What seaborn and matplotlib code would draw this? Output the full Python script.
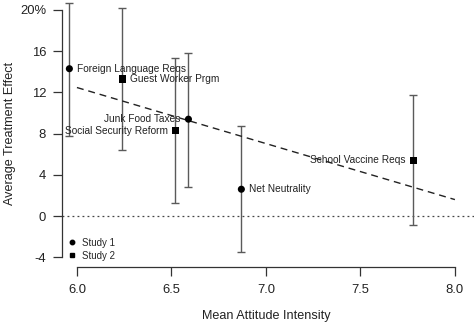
import numpy as np
import pandas as pd
import seaborn as sns
import matplotlib.pyplot as plt
from matplotlib.lines import Line2D

# values
topics = ['Foreign Language Reqs', 'Guest Worker Prgm', 'Social Security Reform',
          'Junk Food Taxes', 'Net Neutrality', 'School Vaccine Reqs']
study = ['Study 1', 'Study 2', 'Study 2', 'Study 1', 'Study 1', 'Study 2']
intensity = [5.96, 6.24, 6.52, 6.59, 6.87, 7.78]
effect = [14.3, 13.3, 8.3, 9.4, 2.6, 5.4]
ci_low = [7.8, 6.4, 1.3, 2.8, -3.5, -0.9]
ci_high = [20.7, 20.2, 15.3, 15.8, 8.7, 11.7]

y_ticks = [-4, 0, 4, 8, 12, 16, 20]
y_ticklabels = ['-4', '0', '4', '8', '12', '16', '20%']
x_ticks = [6.0, 6.5, 7.0, 7.5, 8.0]

df = pd.DataFrame({'topic': topics, 'study': study, 'x': intensity, 'y': effect,
                   'lo': ci_low, 'hi': ci_high})

sns.set_style('white')
plt.rcParams['font.family'] = ['Liberation Sans', 'DejaVu Sans']

fig = plt.figure(figsize=(4.74, 3.30), dpi=100)
ax = fig.add_axes([62 / 474, 63 / 330, 412 / 474, 267 / 330])

ink = '#222222'
bar_col = '#5a5a5a'

# error bars
ax.errorbar(df['x'], df['y'], yerr=[df['y'] - df['lo'], df['hi'] - df['y']],
            fmt='none', ecolor=bar_col, elinewidth=1.0, capsize=3.2, capthick=1.0,
            clip_on=False, zorder=2)

# zero reference
ax.axhline(0, color='#444444', lw=0.9, ls=(0, (1.5, 2.5)), zorder=1)

# OLS fit line over 6..8
slope, intercept = np.polyfit(df['x'], df['y'], 1)
fit = pd.DataFrame({'x': [6.0, 8.0]})
fit['y'] = intercept + slope * fit['x']
sns.lineplot(data=fit, x='x', y='y', ax=ax, color=ink, lw=1.0,
             dashes=False, zorder=3)
ax.lines[-1].set_linestyle((0, (5, 3.5)))

sns.scatterplot(data=df, x='x', y='y', style='study',
                markers={'Study 1': 'o', 'Study 2': 's'}, color='black',
                s=26, edgecolor='black', linewidth=0, ax=ax, legend=False, zorder=4,
                clip_on=False)

# point labels
right_side = {'Foreign Language Reqs', 'Guest Worker Prgm', 'Net Neutrality'}
for t, xv, yv in zip(topics, intensity, effect):
    if t in right_side:
        ax.annotate(t, (xv, yv), xytext=(5.5, 0), textcoords='offset points',
                    ha='left', va='center', fontsize=7.3, color=ink)
    else:
        ax.annotate(t, (xv, yv), xytext=(-5.5, 0), textcoords='offset points',
                    ha='right', va='center', fontsize=7.3, color=ink)

ax.set_xlim(5.921, 8.101)
ax.set_ylim(-4.95, 20.97)

ax.set_xticks(x_ticks)
ax.set_xticklabels([f'{v:.1f}' for v in x_ticks])
ax.set_yticks(y_ticks)
ax.set_yticklabels(y_ticklabels)
ax.tick_params(axis='both', which='both', direction='out', length=6.5, width=0.9,
               color='#333333', labelsize=9.4, labelcolor=ink,
               bottom=True, left=True)
ax.tick_params(axis='x', pad=6)
ax.tick_params(axis='y', pad=5)

for s in ['top', 'right']:
    ax.spines[s].set_visible(False)
ax.spines['left'].set_bounds(-4, 20)
ax.spines['bottom'].set_bounds(6.0, 8.0)
for s in ['left', 'bottom']:
    ax.spines[s].set_color('#333333')
    ax.spines[s].set_linewidth(0.9)

ax.set_xlabel('Mean Attitude Intensity', fontsize=9.1, color=ink)
ax.set_ylabel('Average Treatment Effect', fontsize=9.1, color=ink)
ax.xaxis.set_label_coords((266 - 62) / 412, (267 - 316) / 267)
ax.yaxis.set_label_coords((10 - 62) / 412, (267 - 133) / 267)
ax.xaxis.label.set_va('center')
ax.yaxis.label.set_va('center')

handles = [Line2D([], [], marker='o', ls='none', color='black', markersize=3.2),
           Line2D([], [], marker='s', ls='none', color='black', markersize=3.0)]
ax.legend(handles, ['Study 1', 'Study 2'], loc='lower left',
          bbox_to_anchor=(0.003, 0.006), frameon=False, fontsize=7.0,
          handlelength=0.8, handletextpad=0.6, labelspacing=0.3, borderpad=0)

fig.savefig('out.png', dpi=100)
